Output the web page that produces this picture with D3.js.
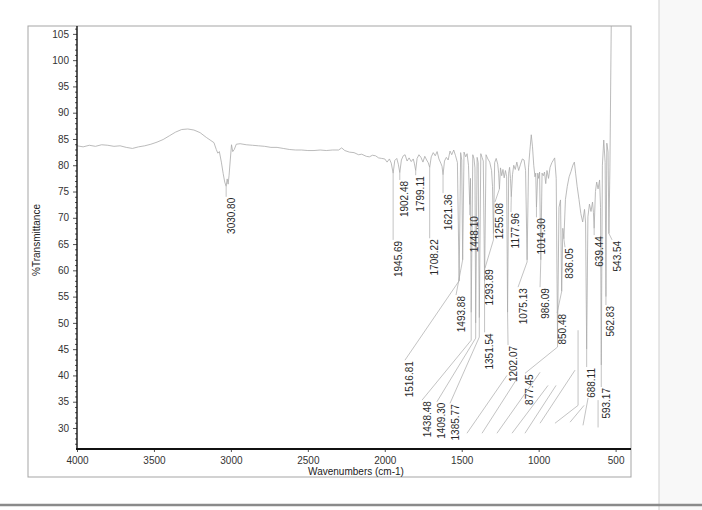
<!DOCTYPE html>
<html>
<head>
<meta charset="utf-8">
<title>IR spectrum</title>
<script src="https://d3js.org/d3.v7.min.js"></script>
<style>
  body { margin: 0; background: #fff; }
  text { font-family: "Liberation Sans", Arial, sans-serif; }
</style>
</head>
<body>
<script>
var width = 702, height = 510;

// x axis ticks (cm-1) and y axis ticks (%T)
var xTicks = [4000, 3500, 3000, 2500, 2000, 1500, 1000, 500];
var yTicks = [30, 35, 40, 45, 50, 55, 60, 65, 70, 75, 80, 85, 90, 95, 100, 105];

// labelled peaks: wavenumber and %T at the bottom of the band
var peakWn = [3030.80, 1945.69, 1902.48, 1799.11, 1708.22, 1621.36, 1516.81, 1493.88,
  1448.10, 1438.48, 1409.30, 1385.77, 1351.54, 1293.89, 1255.08, 1202.07, 1177.96,
  1075.13, 1014.30, 986.09, 877.45, 850.48, 836.05, 688.11, 639.44, 593.17, 562.83, 543.54];
var peakT = [76.0, 78.5, 78.6, 79.0, 79.6, 78.2, 58, 62,
  72.5, 52, 50, 51, 58, 67, 75.5, 52, 74,
  62, 72, 62, 47, 56, 66, 45, 68, 42, 55, 67];

// rest of the trace (wavenumber, %T)
var traceBase = [
  [4000,83.7],[3960,83.5],[3920,83.8],[3880,83.6],[3840,83.9],[3800,83.8],[3760,83.6],
  [3720,83.7],[3680,83.4],[3640,83.2],[3600,83.5],[3560,83.7],[3520,84.0],[3480,84.4],
  [3440,84.9],[3400,85.6],[3360,86.3],[3320,86.8],[3280,86.9],[3240,86.7],[3200,86.2],
  [3160,85.3],[3130,84.7],[3110,84.3],[3095,83.0],[3085,82.3],[3075,82.6],[3062,80.6],
  [3050,78.4],[3040,76.8],[3024,77.4],[3018,76.4],[3012,78.0],[3004,81.0],[2996,83.9],
  [2988,82.6],[2978,83.0],[2965,84.0],[2940,84.1],[2900,83.9],[2860,83.8],[2820,83.7],
  [2780,83.6],[2740,83.4],[2700,83.4],[2660,83.2],[2620,83.0],[2580,82.9],[2540,82.9],
  [2500,82.8],[2460,82.8],[2420,82.9],[2380,82.8],[2340,82.9],[2300,82.9],[2280,83.3],
  [2260,82.8],[2230,82.5],[2200,82.4],[2170,82.0],[2150,82.1],[2120,81.7],[2100,81.6],
  [2080,81.9],[2060,81.8],[2040,81.4],[2020,81.3],[2000,81.2],[1985,80.6],[1970,81.2],
  [1958,80.4],[1935,80.9],[1922,81.3],[1912,80.2],[1892,81.0],[1880,81.8],[1868,82.0],
  [1855,80.8],[1842,81.4],[1828,80.7],[1815,81.2],[1808,80.4],[1790,81.3],[1778,82.0],
  [1765,81.5],[1752,80.6],[1740,81.7],[1728,81.0],[1718,80.5],[1698,81.6],[1685,82.4],
  [1672,81.8],[1660,82.6],[1648,81.2],[1636,80.4],[1628,79.8],[1612,80.8],[1600,81.5],
  [1588,81.0],[1576,82.7],[1565,82.0],[1552,82.9],[1540,81.8],[1528,80.5],[1507,82.4],
  [1500,81.0],[1485,82.5],[1474,81.6],[1465,82.2],[1456,80.0],[1443,77.5],[1428,82.0],
  [1420,81.2],[1414,79.5],[1400,81.5],[1393,80.5],[1376,82.2],[1368,81.5],[1360,80.8],
  [1342,82.0],[1330,81.2],[1318,80.6],[1306,79.0],[1300,76.0],[1286,80.5],[1276,81.3],
  [1266,80.2],[1260,78.5],[1248,79.5],[1240,78.0],[1232,79.2],[1224,77.6],[1216,79.0],
  [1208,77.8],[1195,78.5],[1189,79.6],[1183,77.5],[1170,78.2],[1162,80.0],[1152,79.2],
  [1142,80.6],[1130,79.0],[1118,80.2],[1106,81.2],[1095,81.0],[1085,79.0],[1066,79.5],
  [1058,82.5],[1048,85.8],[1040,83.5],[1032,80.0],[1024,77.8],[1019,78.5],[1006,78.5],
  [1000,77.5],[994,78.7],[978,78.5],[970,78.0],[962,78.7],[954,76.5],[946,79.0],
  [936,77.5],[926,79.6],[914,80.5],[904,81.0],[896,81.4],[886,77.5],[868,72.0],
  [858,73.4],[843,68.0],[826,73.5],[814,76.0],[802,77.8],[790,78.8],[778,80.0],
  [768,80.6],[760,78.5],[750,76.0],[738,73.5],[726,70.8],[714,69.2],[702,71.6],
  [695,69.0],[680,70.2],[670,72.6],[660,71.2],[650,73.0],[644,71.0],[631,75.0],
  [623,76.8],[614,75.5],[604,77.2],[598,72.0],[586,80.0],[577,84.8],[568,80.5],
  [557,84.2],[549,82.5],[537,79.5],[528,108]
];

// where each peak label sits (leader end, cm-1 / %T) and the bend of crowded leaders
var labelWn = [3030.80, 1945.69, 1902.48, 1799.11, 1708.22, 1621.36, 1869, 1537,
  1448.10, 1758, 1661, 1576, 1351.54, 1349, 1284, 1199, 1180,
  1134, 1014.30, 991, 1089, 880, 829, 688.11, 639.44, 593.17, 562.83, 523];
var labelTopT = [74, 65.8, 77.2, 78.1, 66.1, 74.7, 42.9, 55.3,
  70.5, 35.3, 35, 34.7, 48.2, 60.4, 73, 45.8, 71.1,
  56.8, 70.1, 56.8, 40.4, 51.9, 64.4, 41.6, 66.7, 37.8, 53.4, 65.8];
var elbowT = [null, null, null, null, null, null, null, null,
  null, 46.7, 47.1, 47.3, null, 65.8, null, null, null,
  61.6, null, null, 45.4, null, null, null, null, null, null, null];

// loose leader strokes near the bottom of the scan (cm-1, %T pairs)
var strayLeaders = [
  [1466, 29.0, 1206, 40.0], [1368, 29.0, 1147, 39.1], [1271, 29.0, 991, 40.6],
  [1173, 29.0, 939, 38.1], [1089, 29.0, 887, 38.1], [991, 30.9, 764, 41.0],
  [894, 30.9, 744, 34.3], [744, 34.3, 744, 48.6], [796, 31.1, 705, 34.3],
  [712, 30.5, 679, 35.7], [614, 30.1, 614, 35.3]
];

var plotLeft = 77, plotRight = 631, plotTop = 26, plotBottom = 449;

var xScale = d3.scaleLinear().domain([4000, 400]).range([plotLeft, plotRight]);
var yScale = d3.scaleLinear().domain([26, 106.5]).range([plotBottom, plotTop]);

var svg = d3.select('body').append('svg')
  .attr('width', width)
  .attr('height', height);

// scan edges
svg.append('rect').attr('x', 659).attr('y', 0).attr('width', 43).attr('height', height).attr('fill', '#f8f8f8');
svg.append('line').attr('x1', 659).attr('x2', 659).attr('y1', 0).attr('y2', height)
  .attr('stroke', '#cfcfcf').attr('stroke-width', 1);
svg.append('line').attr('x1', 0).attr('x2', width).attr('y1', 505).attr('y2', 505)
  .attr('stroke', '#8a8a8a').attr('stroke-width', 2.5);

// outer frame
svg.append('rect')
  .attr('x', 28).attr('y', plotTop)
  .attr('width', plotRight - 28).attr('height', 477 - plotTop)
  .attr('fill', 'none').attr('stroke', '#a5a5a5').attr('stroke-width', 1);

svg.append('defs').append('clipPath').attr('id', 'plot')
  .append('rect').attr('x', plotLeft).attr('y', plotTop)
  .attr('width', plotRight - plotLeft).attr('height', plotBottom - plotTop);

// spectrum
var trace = traceBase.concat(peakWn.map(function(w, i) { return [w, peakT[i]]; }))
  .sort(function(a, b) { return b[0] - a[0]; });

var line = d3.line()
  .x(function(d) { return xScale(d[0]); })
  .y(function(d) { return yScale(d[1]); });

svg.append('path')
  .datum(trace)
  .attr('clip-path', 'url(#plot)')
  .attr('d', line)
  .attr('fill', 'none')
  .attr('stroke', '#a9a9a9')
  .attr('stroke-width', 0.8);

// leaders
var leaders = svg.append('g').attr('fill', 'none').attr('stroke', '#a9a9a9').attr('stroke-width', 0.7);
peakWn.forEach(function(w, i) {
  var px = xScale(w), py = yScale(peakT[i]);
  var lx = xScale(labelWn[i]), ly = yScale(labelTopT[i]);
  var d = 'M' + px + ',' + py;
  if (elbowT[i] !== null) d += 'V' + yScale(elbowT[i]);
  d += 'L' + lx + ',' + ly;
  leaders.append('path').attr('d', d);
});
strayLeaders.forEach(function(s) {
  leaders.append('line')
    .attr('x1', xScale(s[0])).attr('y1', yScale(s[1]))
    .attr('x2', xScale(s[2])).attr('y2', yScale(s[3]));
});

// peak labels
svg.append('g').selectAll('text')
  .data(peakWn)
  .enter()
  .append('text')
  .attr('transform', function(d, i) {
    return 'translate(' + (xScale(labelWn[i]) + 8.5) + ',' + (yScale(labelTopT[i]) + 1) + ') rotate(-90)';
  })
  .attr('text-anchor', 'end')
  .attr('font-size', '10px')
  .attr('fill', '#2a2a2a')
  .text(function(d) { return d.toFixed(2); });

// axes
svg.append('g').attr('class', 'axis').attr('transform', 'translate(' + plotLeft + ',0)')
  .call(d3.axisLeft(yScale).tickValues(yTicks).tickSize(4).tickPadding(4));
svg.append('g').attr('class', 'axis').attr('transform', 'translate(' + plotLeft + ',0)')
  .call(d3.axisLeft(yScale)
    .tickValues(d3.range(27, 107).filter(function(v) { return v % 5 !== 0; }))
    .tickSize(2).tickFormat(''));

svg.append('g').attr('class', 'axis').attr('transform', 'translate(0,' + plotBottom + ')')
  .call(d3.axisBottom(xScale).tickValues(xTicks).tickSize(3).tickPadding(5)
    .tickFormat(d3.format('d')));

svg.selectAll('.axis .domain').remove();
svg.selectAll('.axis .tick text').attr('font-size', '10px').attr('fill', '#333')
  .attr('font-family', '"Liberation Sans", Arial, sans-serif');
svg.selectAll('.axis .tick line').attr('stroke', '#555');

svg.append('line').attr('x1', plotLeft).attr('x2', plotLeft).attr('y1', plotTop).attr('y2', plotBottom)
  .attr('stroke', '#111').attr('stroke-width', 1.4);
svg.append('line').attr('x1', plotLeft - 1).attr('x2', plotRight).attr('y1', plotBottom).attr('y2', plotBottom)
  .attr('stroke', '#111').attr('stroke-width', 2);

// axis titles
svg.append('text')
  .attr('x', (plotLeft + plotRight) / 2 + 2).attr('y', 475)
  .attr('text-anchor', 'middle')
  .attr('font-size', '10px').attr('fill', '#222')
  .text('Wavenumbers (cm-1)');

svg.append('text')
  .attr('transform', 'translate(40,240) rotate(-90)')
  .attr('text-anchor', 'middle')
  .attr('font-size', '10px').attr('fill', '#222')
  .text('%Transmittance');
</script>
</body>
</html>
